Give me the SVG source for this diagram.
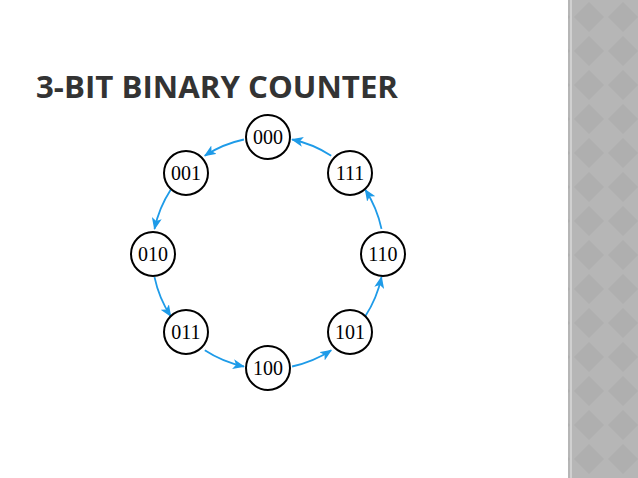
<svg xmlns="http://www.w3.org/2000/svg" width="638" height="478" viewBox="0 0 638 478">
<style>
.n circle{fill:#fff;stroke:#000;stroke-width:2}
.n text{font-family:"Liberation Serif",serif;font-size:20px;text-anchor:middle;fill:#000}
.e path{fill:none;stroke:#1e9be8;stroke-width:1.8;marker-end:url(#a)}
</style>
<defs>
<marker id="a" viewBox="0 0 12 10" refX="11" refY="5" markerWidth="12" markerHeight="10" orient="auto" markerUnits="userSpaceOnUse">
<path d="M0,0 L12,5 L0,10 L3,5 z" fill="#1e9be8"/>
</marker>
<pattern id="dm" width="34" height="34" patternUnits="userSpaceOnUse" x="572" y="0">
<rect width="34" height="34" fill="#b6b6b6"/>
<path d="M17,2 L32,17 L17,32 L2,17 z" fill="#afafaf"/>
</pattern>
</defs>
<rect width="638" height="478" fill="#fff"/>
<rect x="568" y="0" width="70" height="478" fill="url(#dm)"/>
<line x1="571" y1="0" x2="571" y2="478" stroke="#d8d8d8" stroke-width="1.5"/>
<text x="36" y="98" font-family="'Open Sans','DejaVu Sans',sans-serif" font-weight="bold" font-size="30" fill="#333" textLength="362" lengthAdjust="spacingAndGlyphs">3-BIT BINARY COUNTER</text>
<g id="connectors" class="e">
<path d="M243.9,139.5 A116,116 0 0 0 204.8,155.7"/>
<path d="M170.7,189.8 A116,116 0 0 0 154.5,228.9"/>
<path d="M154.5,277.1 A116,116 0 0 0 170.7,316.2"/>
<path d="M204.8,350.3 A116,116 0 0 0 243.9,366.5"/>
<path d="M292.1,366.5 A116,116 0 0 0 331.2,350.3"/>
<path d="M365.3,316.2 A116,116 0 0 0 381.5,277.1"/>
<path d="M381.5,228.9 A116,116 0 0 0 365.3,189.8"/>
<path d="M331.2,155.7 A116,116 0 0 0 292.1,139.5"/>
</g>
<g id="n000" class="n"><circle cx="268" cy="137" r="22"/><text x="268" y="144">000</text></g>
<g id="n001" class="n"><circle cx="186" cy="173" r="22"/><text x="186" y="180">001</text></g>
<g id="n010" class="n"><circle cx="153" cy="254" r="22"/><text x="153" y="261">010</text></g>
<g id="n011" class="n"><circle cx="186" cy="332" r="22"/><text x="186" y="339">011</text></g>
<g id="n100" class="n"><circle cx="268" cy="368" r="22"/><text x="268" y="375">100</text></g>
<g id="n101" class="n"><circle cx="350" cy="332" r="22"/><text x="350" y="339">101</text></g>
<g id="n110" class="n"><circle cx="383" cy="254" r="22"/><text x="383" y="261">110</text></g>
<g id="n111" class="n"><circle cx="350" cy="173" r="22"/><text x="350" y="180">111</text></g>
</svg>
